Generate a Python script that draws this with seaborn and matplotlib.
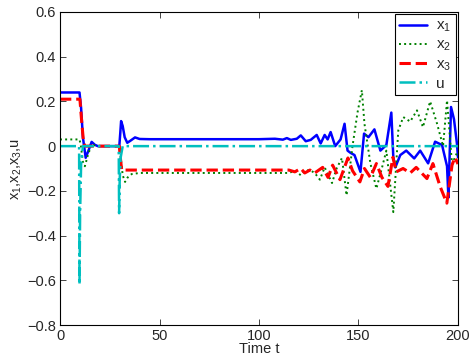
import numpy as np
import pandas as pd
import matplotlib
matplotlib.use("Agg")
import matplotlib.pyplot as plt
import seaborn as sns

# ---- data ----
x1_t = [0, 9.8, 10.6, 11.5, 12.9, 14.3, 15.9, 17.5, 19, 29.8, 30.3, 30.7, 31.5, 32.5, 33.8, 35.5, 37.7, 40, 45,
        60, 80, 100, 108, 112, 114, 116, 119, 121, 123.5, 126, 129, 131, 133, 134.5, 136, 138.3, 141, 143, 144.5,
        146, 148, 151, 152.8, 155, 158, 161, 164, 166.5, 167.5, 168.5, 171, 174, 178, 181, 185, 188.5, 192,
        194.5, 195.2, 196.5, 198, 199.5, 200]
x1_v = [0.24, 0.24, 0.17, 0.04, -0.052, -0.02, 0.019, 0.006, 0, 0, 0.06, 0.112, 0.09, 0.04, 0.015, 0.025, 0.039,
        0.032, 0.031, 0.031, 0.031, 0.031, 0.033, 0.029, 0.036, 0.028, 0.033, 0.048, 0.022, 0.028, 0.05, 0.012,
        0.05, 0.03, 0.063, 0.0, 0.03, 0.10, -0.02, -0.03, -0.04, -0.115, 0.056, 0.04, 0.075, -0.02, 0.005, 0.15,
        -0.05, -0.095, -0.04, -0.02, -0.055, -0.02, -0.077, 0.02, 0.005, -0.09, -0.23, 0.175, 0.12, 0.01, -0.05]

x2_t = [0, 9.8, 10.5, 11.5, 12.5, 14, 16, 18, 29.8, 30.5, 31.5, 32.7, 34, 36, 40, 60, 100, 115, 118, 121,
        123, 125.6, 128, 130.6, 133, 136.7, 139, 141.7, 144, 147, 149.5, 151.7, 153, 156, 159, 162, 164,
        167.5, 170, 172.5, 176, 179.4, 182.4, 186, 189.5, 192.5, 194.5, 197, 199.5, 200]
x2_v = [0.03, 0.03, 0.0, -0.07, -0.09, -0.04, 0.01, 0, 0, -0.05, -0.13, -0.16, -0.14, -0.125, -0.12, -0.12,
        -0.12, -0.12, -0.11, -0.13, -0.11, -0.107, -0.12, -0.15, -0.095, -0.165, -0.10, -0.053, -0.22, 0.0,
        0.15, 0.25, 0.1, -0.078, -0.19, -0.09, -0.02, -0.295, 0.07, 0.13, 0.11, 0.16, 0.085, 0.2, 0.1, 0.0,
        0.205, -0.08, -0.03, -0.03]

x3_t = [0, 10, 10.8, 11.8, 12.5, 29.8, 30.3, 31, 40, 100, 115, 118, 121, 123, 125.6, 128, 132, 134.7, 137,
        140.7, 144.7, 147, 150.7, 153, 156, 159, 161.8, 164.8, 167.3, 169, 172.4, 176, 179, 184.4, 187.4,
        191, 194.4, 197, 198.5, 200]
x3_v = [0.21, 0.21, 0.12, 0.02, 0, 0, -0.05, -0.107, -0.107, -0.107, -0.107, -0.115, -0.10, -0.12, -0.107,
        -0.12, -0.095, -0.14, -0.085, -0.15, -0.053, -0.11, -0.16, -0.10, -0.14, -0.078, -0.14, -0.18, -0.05,
        -0.115, -0.10, -0.12, -0.095, -0.145, -0.078, -0.18, -0.255, -0.085, -0.05, -0.08]

u_t = [0, 9.6, 9.8, 10.1, 10.6, 11.5, 13, 29.5, 29.7, 30.0, 30.5, 31.5, 200]
u_v = [0, 0, -0.62, -0.3, -0.08, 0, 0, 0, -0.3, -0.15, -0.05, 0, 0]

labels = [r'x$_1$', r'x$_2$', r'x$_3$', 'u']
x_ticks = [0, 50, 100, 150, 200]
y_ticks = [-0.8, -0.6, -0.4, -0.2, 0, 0.2, 0.4, 0.6]
y_tick_labels = ['\u22120.8', '\u22120.6', '\u22120.4', '\u22120.2', '0', '0.2', '0.4', '0.6']

# ---- style ----
sns.set_style('ticks')
plt.rcParams['font.family'] = ['Liberation Sans', 'DejaVu Sans']
plt.rcParams['mathtext.fontset'] = 'custom'
plt.rcParams['mathtext.rm'] = 'Liberation Sans'
plt.rcParams['mathtext.it'] = 'Liberation Sans'
plt.rcParams['xtick.direction'] = 'in'
plt.rcParams['ytick.direction'] = 'in'

fig = plt.figure(figsize=(4.74, 3.61), dpi=100)
ax = fig.add_axes([0.1266, 0.0997, 0.8396, 0.8671])

series = [
    (x1_t, x1_v, '#0000ff', '-', 1.8),
    (x2_t, x2_v, '#008000', ':', 1.4),
    (x3_t, x3_v, '#ff0000', '--', 2.2),
    (u_t, u_v, '#00bfbf', '-.', 1.8),
]
for (t, v, c, ls, lw), lab in zip(series, labels):
    df = pd.DataFrame({'t': t, 'v': v})
    sns.lineplot(data=df, x='t', y='v', ax=ax, color=c, linestyle=ls, linewidth=lw,
                 estimator=None, sort=False, label=lab)

ax.set_xlim(0, 200)
ax.set_ylim(-0.8, 0.6)
ax.set_xticks(x_ticks)
ax.set_yticks(y_ticks)
ax.set_yticklabels(y_tick_labels)
ax.tick_params(axis='both', labelsize=10.5, length=4, width=0.6, top=True, right=True, pad=3)
for s in ax.spines.values():
    s.set_linewidth(0.8)
    s.set_color('black')
ax.set_xlabel('Time t', fontsize=10.5, labelpad=-1)
ax.set_ylabel(r'x$_1$,x$_2$,x$_3$,u', fontsize=10.5, labelpad=2)

leg = ax.legend(loc='upper right', fontsize=11, frameon=True, fancybox=False,
                edgecolor='black', framealpha=1, handlelength=1.8, borderaxespad=0.15,
                labelspacing=0.25, handletextpad=0.6, borderpad=0.3)
leg.get_frame().set_linewidth(0.8)

fig.savefig('out.png', dpi=100)
